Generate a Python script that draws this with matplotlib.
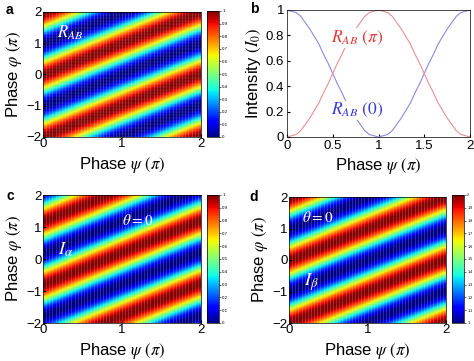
import numpy as np
import matplotlib
matplotlib.use("Agg")
import matplotlib.pyplot as plt

plt.rcParams['font.family'] = ['Liberation Sans', 'DejaVu Sans']
plt.rcParams['mathtext.fontset'] = 'stix'

# ---- data ----
psi_samples = [round(0.05 * k, 2) for k in range(41)]
R_AB_0 = [1.00, 0.99, 0.98, 0.95, 0.90, 0.85, 0.79, 0.73, 0.65, 0.58, 0.50,
          0.42, 0.35, 0.27, 0.21, 0.15, 0.10, 0.05, 0.02, 0.01, 0.00,
          0.01, 0.02, 0.05, 0.10, 0.15, 0.21, 0.27, 0.35, 0.42, 0.50,
          0.58, 0.65, 0.73, 0.79, 0.85, 0.90, 0.95, 0.98, 0.99, 1.00]
R_AB_pi = [0.00, 0.01, 0.02, 0.05, 0.10, 0.15, 0.21, 0.27, 0.35, 0.42, 0.50,
           0.58, 0.65, 0.73, 0.79, 0.85, 0.90, 0.95, 0.98, 0.99, 1.00,
           0.99, 0.98, 0.95, 0.90, 0.85, 0.79, 0.73, 0.65, 0.58, 0.50,
           0.42, 0.35, 0.27, 0.21, 0.15, 0.10, 0.05, 0.02, 0.01, 0.00]
phi_samples = [round(-2 + 0.05 * k, 2) for k in range(81)]

# stripe shift (in 0.05 pi steps) of each map relative to R_AB, and base level
shift_a, base_a = 0, 0.0
shift_c, base_c = 24, 0.0
shift_d, base_d = 0, 1.0

heat_xticks = [0, 1, 2]
heat_yticks = [-2, -1, 0, 1, 2]
b_xticks = [0, 0.5, 1, 1.5, 2]
b_xticklabels = ['0', '0.5', '1', '1.5', '2']
b_yticks = [0, 0.2, 0.4, 0.6, 0.8, 1]
b_yticklabels = ['0', '0.2', '0.4', '0.6', '0.8', '1']
cb_ticks_01 = [0, 0.1, 0.2, 0.3, 0.4, 0.5, 0.6, 0.7, 0.8, 0.9, 1]
cb_ticks_12 = [1, 1.1, 1.2, 1.3, 1.4, 1.5, 1.6, 1.7, 1.8, 1.9, 2]

W, H = 474, 361
fig = plt.figure(figsize=(W / 100, H / 100), dpi=100)


def rect(l, t, r, b):
    return [l / W, 1 - b / H, (r - l) / W, (b - t) / H]


def make_field(profile, shift, base):
    prof = np.array(profile[:-1])
    n = len(prof)
    Z = np.zeros((len(phi_samples), len(psi_samples)))
    for j in range(len(phi_samples)):
        for i in range(len(psi_samples)):
            Z[j, i] = base + prof[(i - j + shift) % n]
    return Z


xlabel = r'Phase $\psi\ (\pi)$'
ylabel = r'Phase $\varphi\ (\pi)$'


def heat_panel(ax_r, cb_r, Z, vmin, vmax, cticks, hlines=True, cfs=3.2):
    ax = fig.add_axes(rect(*ax_r))
    m = ax.imshow(Z, cmap='jet', origin='lower', aspect='auto',
                  extent=(psi_samples[0], psi_samples[-1], phi_samples[0], phi_samples[-1]),
                  interpolation='bilinear', vmin=vmin, vmax=vmax)
    for xv in np.linspace(0, 2, 51):
        ax.axvline(xv, color='white', lw=0.4, alpha=0.3)
    if hlines:
        for yv in np.linspace(-2, 2, 41):
            ax.axhline(yv, color='white', lw=0.35, alpha=0.2)
    ax.set_xlim(0, 2)
    ax.set_ylim(-2, 2)
    ax.set_xticks(heat_xticks)
    ax.set_yticks(heat_yticks)
    ax.tick_params(labelsize=9.5, length=2, direction='in', pad=1)
    ax.set_xlabel(xlabel, fontsize=12, labelpad=3)
    ax.set_ylabel(ylabel, fontsize=12, labelpad=2)
    for s in ax.spines.values():
        s.set_linewidth(0.5)
    cax = fig.add_axes(rect(*cb_r))
    cb = fig.colorbar(m, cax=cax, ticks=cticks)
    cb.ax.tick_params(labelsize=cfs, length=1.5, width=0.4, pad=0.8)
    cb.ax.set_yticklabels([('%g' % t) for t in cticks])
    cb.outline.set_linewidth(0.5)
    return ax


# panel a
ax_a = heat_panel((43, 12, 201, 137), (207, 11, 219, 137),
                  make_field(R_AB_0, shift_a, base_a), 0, 1, cb_ticks_01)
ax_a.text(0.34, 1.35, r'$R_{AB}$', color='white', fontsize=12,
          ha='center', va='center')

# panel c
ax_c = heat_panel((43, 195, 201, 323), (207, 195, 219, 323),
                  make_field(R_AB_0, shift_c, base_c), 0, 1, cb_ticks_01, hlines=False)
ax_c.text(1.2, 1.2, r'$\theta = 0$', color='white', fontsize=11,
          ha='center', va='center')
ax_c.text(0.28, 0.3, r'$I_{\alpha}$', color='white', fontsize=13,
          ha='center', va='center')

# panel d
ax_d = heat_panel((289, 197, 446, 323), (452, 195, 464, 323),
                  make_field(R_AB_0, shift_d, base_d), 1, 2, cb_ticks_12,
                  hlines=False, cfs=2.7)
ax_d.text(0.36, 1.35, r'$\theta = 0$', color='white', fontsize=11,
          ha='center', va='center')
ax_d.text(0.28, -0.7, r'$I_{\beta}$', color='white', fontsize=13,
          ha='center', va='center')

# panel b
ax_b = fig.add_axes(rect(287, 10, 470, 137))
ax_b.plot(psi_samples, R_AB_0, color='#8a8ae0', lw=0.8, zorder=2)
ax_b.plot(psi_samples, R_AB_pi, color='#e89090', lw=0.8, zorder=2)
ax_b.set_xlim(0, 2)
ax_b.set_ylim(0, 1)
ax_b.set_xticks(b_xticks)
ax_b.set_xticklabels(b_xticklabels)
ax_b.set_yticks(b_yticks)
ax_b.set_yticklabels(b_yticklabels)
ax_b.tick_params(labelsize=9.5, length=2, direction='in', pad=2)
ax_b.set_xlabel(xlabel, fontsize=12, labelpad=3)
ax_b.set_ylabel(r'Intensity $(I_0)$', fontsize=12, labelpad=2)
for s in ax_b.spines.values():
    s.set_linewidth(0.5)
ax_b.text(0.77, 0.78, r'$R_{AB}\ (\pi)$', color='#e03a3a', fontsize=12.5,
          ha='center', va='center', zorder=3,
          bbox=dict(facecolor='white', edgecolor='none', pad=0.5))
ax_b.text(0.77, 0.21, r'$R_{AB}\ (0)$', color='#3a3ad0', fontsize=12.5,
          ha='center', va='center', zorder=3,
          bbox=dict(facecolor='white', edgecolor='none', pad=0.5))

# panel letters
for lbl, x, y in [('a', 9, 10), ('b', 254, 9), ('c', 10, 196), ('d', 254, 197)]:
    fig.text(x / W, 1 - y / H, lbl, fontsize=10, fontweight='bold',
             ha='center', va='center')

fig.savefig('out.png', dpi=100)
